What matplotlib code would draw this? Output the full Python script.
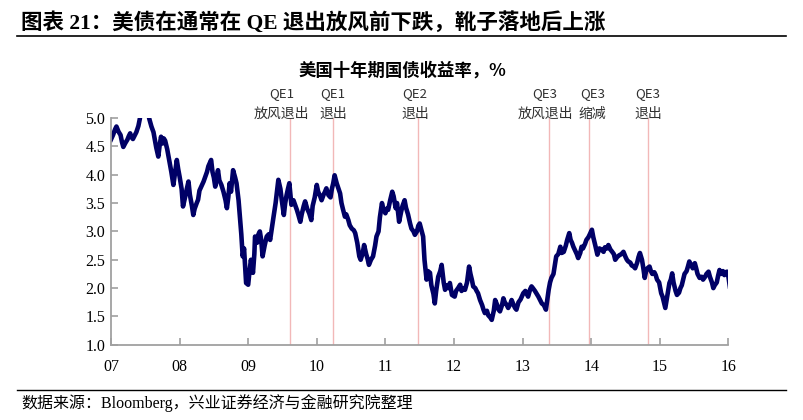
import numpy as np
import matplotlib
matplotlib.use("Agg")
import matplotlib.pyplot as plt
import matplotlib.transforms as mtransforms

# US 10y treasury yield (decimal year, %)
t = [
    2007.00, 2007.03, 2007.06, 2007.08, 2007.11, 2007.14, 2007.16, 2007.18, 2007.21, 2007.24,
    2007.26, 2007.28, 2007.30, 2007.32, 2007.35, 2007.37, 2007.40, 2007.42, 2007.44, 2007.46,
    2007.48, 2007.51, 2007.54, 2007.56, 2007.59, 2007.62, 2007.64, 2007.66, 2007.69, 2007.71,
    2007.73, 2007.75, 2007.77, 2007.79, 2007.82, 2007.84, 2007.86, 2007.88, 2007.91, 2007.93,
    2007.96, 2007.98,
    2008.00, 2008.03, 2008.05, 2008.08, 2008.10, 2008.13, 2008.15, 2008.18, 2008.20, 2008.22,
    2008.25, 2008.27, 2008.29, 2008.32, 2008.35, 2008.37, 2008.40, 2008.42, 2008.46, 2008.48,
    2008.50, 2008.52, 2008.54, 2008.56, 2008.58, 2008.61, 2008.64, 2008.67, 2008.69, 2008.71,
    2008.73, 2008.75, 2008.78, 2008.81, 2008.83, 2008.86, 2008.88, 2008.90, 2008.92, 2008.94,
    2008.97,
    2009.00, 2009.02, 2009.04, 2009.07, 2009.09, 2009.10, 2009.13, 2009.15, 2009.17, 2009.19,
    2009.21, 2009.24, 2009.27, 2009.30, 2009.32, 2009.35, 2009.37, 2009.40, 2009.42, 2009.44,
    2009.47, 2009.49, 2009.52, 2009.54, 2009.56, 2009.58, 2009.60, 2009.63, 2009.66, 2009.69,
    2009.71, 2009.73, 2009.76, 2009.78, 2009.81, 2009.83, 2009.86, 2009.89, 2009.92, 2009.94,
    2009.97,
    2010.00, 2010.02, 2010.05, 2010.07, 2010.10, 2010.12, 2010.14, 2010.17, 2010.20, 2010.22,
    2010.24, 2010.26, 2010.29, 2010.31, 2010.34, 2010.36, 2010.38, 2010.41, 2010.43, 2010.46,
    2010.48, 2010.51, 2010.54, 2010.56, 2010.59, 2010.62, 2010.64, 2010.67, 2010.69, 2010.72,
    2010.74, 2010.76, 2010.79, 2010.82, 2010.85, 2010.87, 2010.90, 2010.92, 2010.95, 2010.97,
    2011.00, 2011.02, 2011.04, 2011.07, 2011.10, 2011.12, 2011.15, 2011.17, 2011.20, 2011.23,
    2011.25, 2011.28, 2011.30, 2011.33, 2011.36, 2011.38, 2011.41, 2011.43, 2011.46, 2011.48,
    2011.50, 2011.53, 2011.55, 2011.57, 2011.60, 2011.62, 2011.65, 2011.67, 2011.70, 2011.72,
    2011.74, 2011.77, 2011.80, 2011.82, 2011.85, 2011.87, 2011.90, 2011.92, 2011.94, 2011.97,
    2012.01, 2012.03, 2012.06, 2012.09, 2012.11, 2012.14, 2012.16, 2012.19, 2012.22, 2012.24,
    2012.26, 2012.28, 2012.31, 2012.33, 2012.35, 2012.38, 2012.41, 2012.43, 2012.45, 2012.48,
    2012.50, 2012.53, 2012.55, 2012.58, 2012.60, 2012.63, 2012.65, 2012.67, 2012.70, 2012.72,
    2012.74, 2012.77, 2012.79, 2012.82, 2012.84, 2012.87, 2012.89, 2012.91, 2012.94, 2012.97,
    2013.01, 2013.04, 2013.06, 2013.08, 2013.11, 2013.13, 2013.15, 2013.18, 2013.20, 2013.23,
    2013.26, 2013.28, 2013.31, 2013.34, 2013.36, 2013.38, 2013.40, 2013.42, 2013.45, 2013.47,
    2013.49, 2013.52, 2013.55, 2013.57, 2013.60, 2013.63, 2013.65, 2013.68, 2013.70, 2013.72,
    2013.74, 2013.77, 2013.79, 2013.81, 2013.84, 2013.86, 2013.88, 2013.91, 2013.93, 2013.96,
    2013.98,
    2014.01, 2014.03, 2014.06, 2014.09, 2014.12, 2014.15, 2014.18, 2014.20, 2014.23, 2014.25,
    2014.28, 2014.30, 2014.33, 2014.35, 2014.38, 2014.41, 2014.44, 2014.47, 2014.50, 2014.52,
    2014.54, 2014.57, 2014.59, 2014.62, 2014.64, 2014.67, 2014.69, 2014.71, 2014.74, 2014.76,
    2014.78, 2014.80, 2014.82, 2014.85, 2014.87, 2014.89, 2014.92, 2014.94, 2014.96, 2014.99,
    2015.02, 2015.04, 2015.06, 2015.08, 2015.10, 2015.12, 2015.14, 2015.16, 2015.18, 2015.20,
    2015.23, 2015.25, 2015.28, 2015.30, 2015.32, 2015.34, 2015.36, 2015.39, 2015.41, 2015.43,
    2015.46, 2015.48, 2015.51, 2015.53, 2015.55, 2015.58, 2015.61, 2015.63, 2015.66, 2015.68,
    2015.71, 2015.73, 2015.76, 2015.78, 2015.80, 2015.83, 2015.85, 2015.87, 2015.89, 2015.92,
    2015.94, 2015.96, 2015.98, 2016.00, 2016.02,
]
yld = [
    4.62, 4.70, 4.80, 4.85, 4.76, 4.70, 4.58, 4.49, 4.56, 4.62,
    4.68, 4.73, 4.66, 4.63, 4.70, 4.75, 4.86, 4.98, 5.15, 5.20,
    5.10, 5.05, 5.10, 4.98, 4.85, 4.75, 4.62, 4.48, 4.32, 4.52,
    4.67, 4.55, 4.64, 4.60, 4.45, 4.32, 4.20, 4.05, 3.82, 4.00,
    4.26, 4.10,
    3.97, 3.75, 3.44, 3.60, 3.72, 3.88, 3.65, 3.45, 3.29, 3.40,
    3.50, 3.56, 3.72, 3.80, 3.88, 3.95, 4.05, 4.15, 4.26, 4.05,
    3.95, 3.79, 3.95, 4.08, 3.90, 3.82, 3.70, 3.55, 3.41, 3.60,
    3.85, 3.70, 4.08, 3.95, 3.85, 3.55, 3.26, 2.95, 2.56, 2.70,
    2.09,
    2.06, 2.30, 2.50, 2.27, 2.60, 2.91, 2.80, 2.95, 3.00, 2.85,
    2.56, 2.75, 2.91, 2.95, 2.85, 3.10, 3.26, 3.50, 3.70, 3.91,
    3.75, 3.55, 3.29, 3.50, 3.64, 3.75, 3.85, 3.47, 3.55, 3.45,
    3.38, 3.30, 3.17, 3.30, 3.45, 3.53, 3.40, 3.32, 3.20, 3.45,
    3.60,
    3.82, 3.70, 3.62, 3.55, 3.65, 3.70, 3.76, 3.64, 3.60, 3.75,
    3.85, 3.99, 3.85, 3.78, 3.67, 3.50, 3.40, 3.26, 3.30, 3.20,
    3.11, 3.05, 3.02, 2.97, 2.80, 2.56, 2.50, 2.62, 2.76, 2.60,
    2.52, 2.41, 2.50, 2.56, 2.75, 2.91, 3.00, 3.25, 3.50, 3.40,
    3.32, 3.40, 3.38, 3.55, 3.70, 3.62, 3.41, 3.50, 3.17, 3.35,
    3.45, 3.55, 3.42, 3.30, 3.14, 3.05, 3.00, 2.94, 3.00, 3.10,
    3.14, 3.00, 2.91, 2.50, 2.15, 2.30, 2.27, 2.05, 1.90, 1.73,
    1.95, 2.20, 2.30, 2.41, 2.10, 1.97, 2.05, 2.00, 2.09, 1.88,
    1.85, 1.95, 2.00, 2.06, 1.95, 2.00, 1.97, 2.10, 2.38, 2.25,
    2.15, 2.03, 2.00, 1.95, 1.91, 1.79, 1.70, 1.62, 1.56, 1.60,
    1.52, 1.48, 1.44, 1.60, 1.79, 1.70, 1.62, 1.59, 1.70, 1.82,
    1.75, 1.70, 1.65, 1.72, 1.79, 1.70, 1.65, 1.62, 1.75, 1.80,
    1.91, 1.95, 1.90, 1.85, 1.98, 2.03, 2.00, 1.95, 1.91, 1.85,
    1.78, 1.73, 1.70, 1.62, 1.80, 1.97, 2.10, 2.18, 2.25, 2.40,
    2.56, 2.60, 2.73, 2.62, 2.64, 2.75, 2.85, 2.97, 2.85, 2.80,
    2.73, 2.65, 2.60, 2.53, 2.62, 2.73, 2.70, 2.78, 2.85, 2.90,
    2.95,
    3.03, 2.90, 2.75, 2.59, 2.70, 2.68, 2.64, 2.72, 2.70, 2.76,
    2.68, 2.65, 2.60, 2.50, 2.55, 2.58, 2.60, 2.64, 2.55, 2.50,
    2.47, 2.45, 2.40, 2.38, 2.35, 2.45, 2.55, 2.62, 2.50, 2.35,
    2.18, 2.30, 2.35, 2.38, 2.30, 2.25, 2.28, 2.23, 2.15, 2.10,
    1.91, 1.85, 1.75, 1.65, 1.80, 1.95, 2.09, 2.15, 2.26, 2.10,
    1.95, 1.88, 1.92, 2.00, 2.05, 2.15, 2.25, 2.30, 2.38, 2.47,
    2.40, 2.35, 2.44, 2.35, 2.25, 2.18, 2.20, 2.15, 2.20, 2.25,
    2.29, 2.20, 2.10, 2.00, 2.05, 2.10, 2.22, 2.32, 2.25, 2.30,
    2.23, 2.28, 2.29, 2.20, 2.03,
]

# QE events
qe_x = [2009.61, 2010.24, 2011.48, 2013.39, 2013.97, 2014.83]
qe_top = ["QE1", "QE1", "QE2", "QE3", "QE3", "QE3"]
qe_bottom = ["放风退出", "退出", "退出", "放风退出", "缩减", "退出"]
qe_shift = [-0.12, 0.0, -0.05, -0.06, 0.05, 0.0]

year_ticks = list(range(2007, 2017))
year_labels = ["07", "08", "09", "10", "11", "12", "13", "14", "15", "16"]
y_ticks = [1.0, 1.5, 2.0, 2.5, 3.0, 3.5, 4.0, 4.5, 5.0]

cjk = ["Noto Sans CJK SC", "DejaVu Sans"]
serif_cjk = ["Liberation Serif", "Noto Sans CJK SC"]

fig = plt.figure(figsize=(8.04, 4.2), dpi=100)
ax = fig.add_axes([0.138, 0.179, 0.768, 0.540])

ax.plot(t, yld, color="#000066", lw=3.3, solid_joinstyle="round")

for x in qe_x:
    ax.axvline(x, color="#f2b8b8", lw=1.0, zorder=0)

trans = mtransforms.blended_transform_factory(ax.transData, ax.transAxes)
for x, a, b, s in zip(qe_x, qe_top, qe_bottom, qe_shift):
    ax.text(x + s, 1.11, a, transform=trans, ha="center", va="center",
            fontsize=9.5, family=cjk, color="#303030")
    ax.text(x + s, 1.02, b, transform=trans, ha="center", va="center",
            fontsize=10, family=cjk, color="#303030")

ax.set_xlim(2007, 2016)
ax.set_ylim(1.0, 5.0)
ax.set_xticks(year_ticks)
ax.set_xticklabels(year_labels)
ax.set_yticks(y_ticks)
ax.set_yticklabels(["%.1f" % v for v in y_ticks])
for lab in ax.get_xticklabels() + ax.get_yticklabels():
    lab.set_family("Liberation Serif")
    lab.set_fontsize(11.5)
ax.tick_params(direction="in", length=5, width=1.2, color="#a0a0a0")
ax.tick_params(axis="x", pad=10)
ax.tick_params(axis="y", pad=4)
for side in ["top", "right"]:
    ax.spines[side].set_visible(False)
for side in ["left", "bottom"]:
    ax.spines[side].set_color("#a0a0a0")
    ax.spines[side].set_linewidth(1.3)

fig.text(0.5, 0.833, "美国十年期国债收益率，%", ha="center", va="center",
         fontsize=12.5, fontweight="bold", family=cjk)

fig.text(0.026, 0.945, "图表 21：美债在通常在 QE 退出放风前下跌，靴子落地后上涨",
         ha="left", va="center", fontsize=15.5, fontweight="bold", family=serif_cjk)
fig.add_artist(plt.Line2D([0.021, 0.977], [0.915, 0.915], color="black", lw=1.2))

fig.add_artist(plt.Line2D([0.021, 0.977], [0.071, 0.071], color="black", lw=1.0))
fig.text(0.026, 0.04, "数据来源：Bloomberg，兴业证券经济与金融研究院整理",
         ha="left", va="center", fontsize=11.5, family=serif_cjk)

fig.savefig("out.png", dpi=100)
